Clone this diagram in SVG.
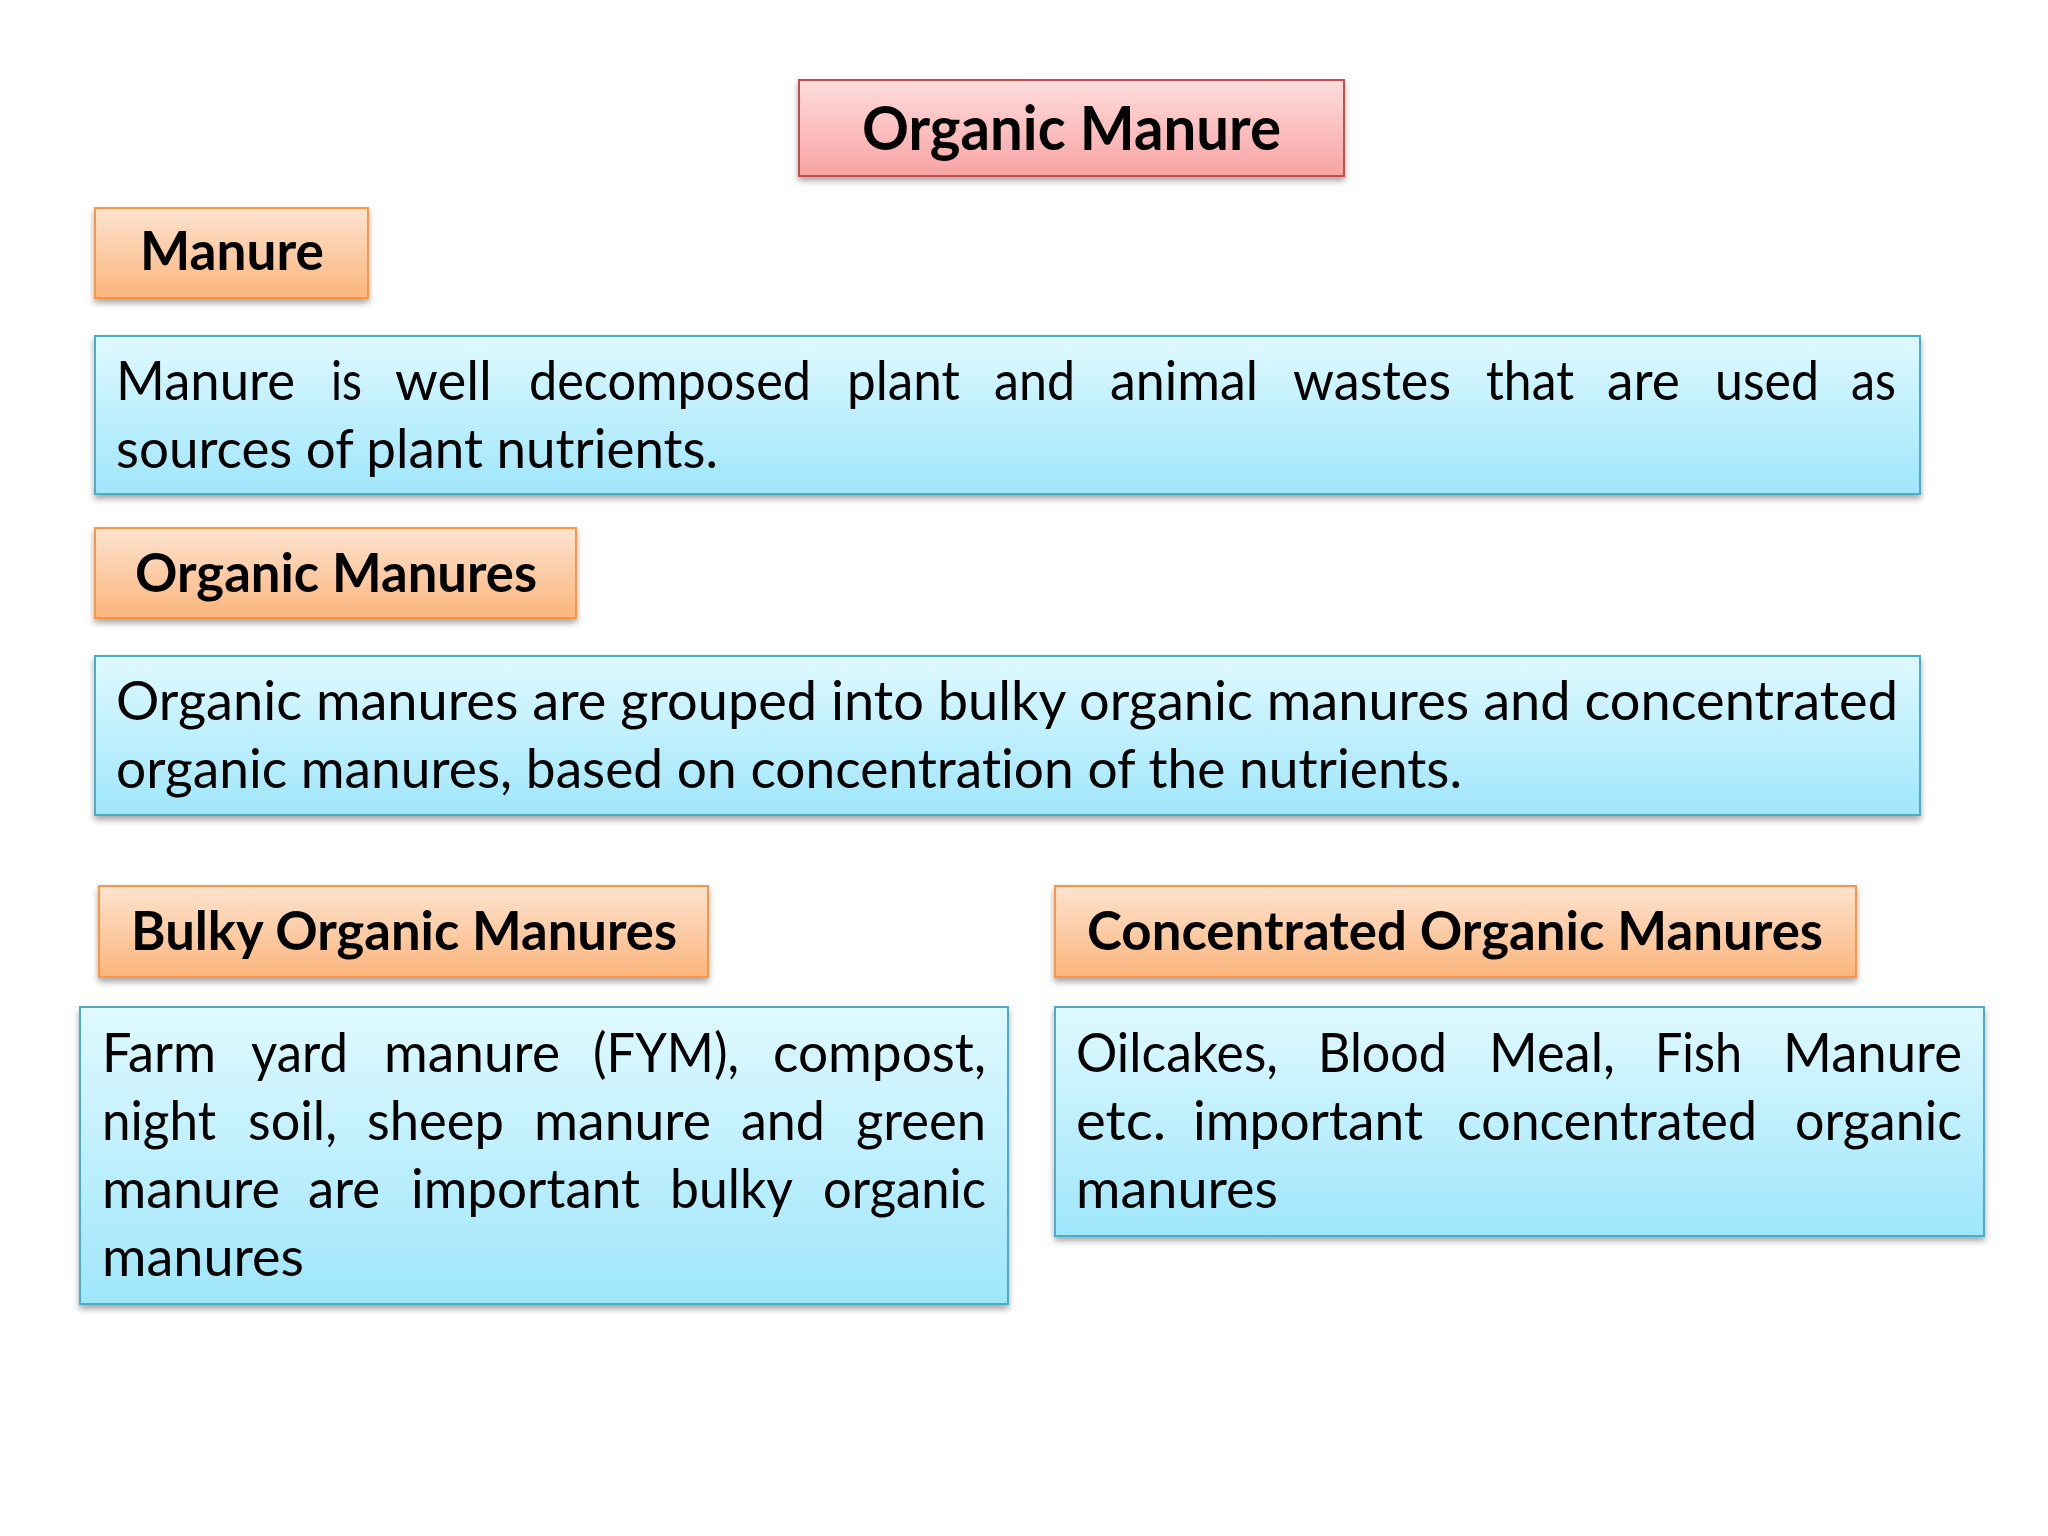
<svg xmlns="http://www.w3.org/2000/svg" width="2048" height="1536" viewBox="0 0 2048 1536">
<defs>
<linearGradient id="gRed" x1="0" y1="0" x2="0" y2="1"><stop offset="0" stop-color="#ffdcdc"/><stop offset="1" stop-color="#f8a3a3"/></linearGradient>
<linearGradient id="gOr" x1="0" y1="0" x2="0" y2="1"><stop offset="0" stop-color="#fde3cf"/><stop offset="1" stop-color="#fbb57c"/></linearGradient>
<linearGradient id="gBl" x1="0" y1="0" x2="0" y2="1"><stop offset="0" stop-color="#dff9ff"/><stop offset="1" stop-color="#9fe6fb"/></linearGradient>
<filter id="sh" x="-5%" y="-20%" width="110%" height="150%"><feDropShadow dx="0" dy="4" stdDeviation="3" flood-color="#000" flood-opacity="0.35"/></filter>
<style>
.red{fill:url(#gRed);stroke:#c0504d;stroke-width:2;filter:url(#sh)}
.or{fill:url(#gOr);stroke:#f79646;stroke-width:2;filter:url(#sh)}
.bl{fill:url(#gBl);stroke:#4bacc6;stroke-width:2;filter:url(#sh)}
.h{font-family:Lato,"Liberation Sans",sans-serif;font-weight:bold;fill:#000;font-variant-ligatures:none}
.b{font-family:Lato,"Liberation Sans",sans-serif;font-size:54px;fill:#000;font-variant-ligatures:none}
</style>
</defs>
<rect width="2048" height="1536" fill="#ffffff"/>
<g id="title">
<rect class="red" x="799" y="80" width="545" height="96"/>
<text class="h" x="862" y="150" font-size="62" textLength="419" lengthAdjust="spacingAndGlyphs">Organic Manure</text>
</g>
<g id="manure-head">
<rect class="or" x="95" y="208" width="273" height="90"/>
<text class="h" x="140" y="270" font-size="54" textLength="184" lengthAdjust="spacingAndGlyphs">Manure</text>
</g>
<g id="manure-desc">
<rect class="bl" x="95" y="336" width="1825" height="158"/>
<text class="b" y="400" lengthAdjust="spacingAndGlyphs"><tspan x="116" textLength="179" lengthAdjust="spacingAndGlyphs">Manure</tspan><tspan x="331" textLength="31" lengthAdjust="spacingAndGlyphs">is</tspan><tspan x="395" textLength="97" lengthAdjust="spacingAndGlyphs">well</tspan><tspan x="529" textLength="282" lengthAdjust="spacingAndGlyphs">decomposed</tspan><tspan x="847" textLength="113" lengthAdjust="spacingAndGlyphs">plant</tspan><tspan x="994" textLength="81" lengthAdjust="spacingAndGlyphs">and</tspan><tspan x="1110" textLength="148" lengthAdjust="spacingAndGlyphs">animal</tspan><tspan x="1293" textLength="158" lengthAdjust="spacingAndGlyphs">wastes</tspan><tspan x="1486" textLength="88" lengthAdjust="spacingAndGlyphs">that</tspan><tspan x="1607" textLength="73" lengthAdjust="spacingAndGlyphs">are</tspan><tspan x="1715" textLength="104" lengthAdjust="spacingAndGlyphs">used</tspan><tspan x="1851" textLength="45" lengthAdjust="spacingAndGlyphs">as</tspan></text>
<text class="b" x="116" y="468" textLength="602" lengthAdjust="spacingAndGlyphs">sources of plant nutrients.</text>
</g>
<g id="organic-head">
<rect class="or" x="95" y="528" width="481" height="90"/>
<text class="h" x="135" y="592" font-size="54" textLength="402" lengthAdjust="spacingAndGlyphs">Organic Manures</text>
</g>
<g id="organic-desc">
<rect class="bl" x="95" y="656" width="1825" height="159"/>
<text class="b" x="116" y="720" textLength="1782" lengthAdjust="spacingAndGlyphs">Organic manures are grouped into bulky organic manures and concentrated</text>
<text class="b" x="116" y="788" textLength="1346" lengthAdjust="spacingAndGlyphs">organic manures, based on concentration of the nutrients.</text>
</g>
<g id="bulky-head">
<rect class="or" x="99" y="886" width="609" height="91"/>
<text class="h" x="131" y="950" font-size="54" textLength="546" lengthAdjust="spacingAndGlyphs">Bulky Organic Manures</text>
</g>
<g id="conc-head">
<rect class="or" x="1055" y="886" width="801" height="91"/>
<text class="h" x="1087" y="950" font-size="54" textLength="736" lengthAdjust="spacingAndGlyphs">Concentrated Organic Manures</text>
</g>
<g id="bulky-desc">
<rect class="bl" x="80" y="1007" width="928" height="297"/>
<text class="b" y="1072"><tspan x="102" textLength="114" lengthAdjust="spacingAndGlyphs">Farm</tspan><tspan x="251" textLength="97" lengthAdjust="spacingAndGlyphs">yard</tspan><tspan x="384" textLength="176" lengthAdjust="spacingAndGlyphs">manure</tspan><tspan x="593" textLength="146" lengthAdjust="spacingAndGlyphs">(FYM),</tspan><tspan x="773" textLength="213" lengthAdjust="spacingAndGlyphs">compost,</tspan></text>
<text class="b" y="1140"><tspan x="102" textLength="114" lengthAdjust="spacingAndGlyphs">night</tspan><tspan x="248" textLength="89" lengthAdjust="spacingAndGlyphs">soil,</tspan><tspan x="367" textLength="137" lengthAdjust="spacingAndGlyphs">sheep</tspan><tspan x="534" textLength="177" lengthAdjust="spacingAndGlyphs">manure</tspan><tspan x="741" textLength="84" lengthAdjust="spacingAndGlyphs">and</tspan><tspan x="856" textLength="130" lengthAdjust="spacingAndGlyphs">green</tspan></text>
<text class="b" y="1208"><tspan x="102" textLength="178" lengthAdjust="spacingAndGlyphs">manure</tspan><tspan x="308" textLength="72" lengthAdjust="spacingAndGlyphs">are</tspan><tspan x="411" textLength="229" lengthAdjust="spacingAndGlyphs">important</tspan><tspan x="670" textLength="123" lengthAdjust="spacingAndGlyphs">bulky</tspan><tspan x="823" textLength="163" lengthAdjust="spacingAndGlyphs">organic</tspan></text>
<text class="b" x="102" y="1276">manures</text>
</g>
<g id="conc-desc">
<rect class="bl" x="1055" y="1007" width="929" height="229"/>
<text class="b" y="1072"><tspan x="1076" textLength="202" lengthAdjust="spacingAndGlyphs">Oilcakes,</tspan><tspan x="1318" textLength="129" lengthAdjust="spacingAndGlyphs">Blood</tspan><tspan x="1489" textLength="126" lengthAdjust="spacingAndGlyphs">Meal,</tspan><tspan x="1655" textLength="87" lengthAdjust="spacingAndGlyphs">Fish</tspan><tspan x="1783" textLength="179" lengthAdjust="spacingAndGlyphs">Manure</tspan></text>
<text class="b" y="1140"><tspan x="1076" textLength="90" lengthAdjust="spacingAndGlyphs">etc.</tspan><tspan x="1193" textLength="230" lengthAdjust="spacingAndGlyphs">important</tspan><tspan x="1457" textLength="300" lengthAdjust="spacingAndGlyphs">concentrated</tspan><tspan x="1795" textLength="167" lengthAdjust="spacingAndGlyphs">organic</tspan></text>
<text class="b" x="1076" y="1208">manures</text>
</g>
<g id="connectors"></g>
</svg>
